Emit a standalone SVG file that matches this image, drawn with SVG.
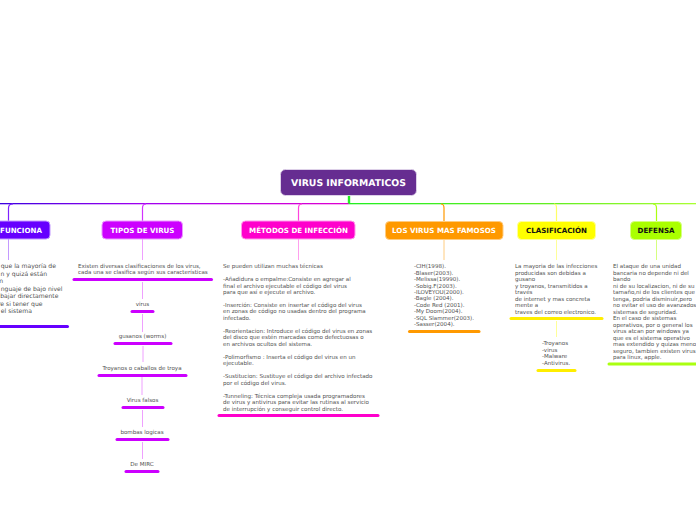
<svg xmlns="http://www.w3.org/2000/svg" width="696" height="520" viewBox="0 0 696 520">
<style>
text{font-family:"DejaVu Sans",Verdana,sans-serif;text-rendering:geometricPrecision}
.t{font-size:5.55px;fill:#505050}
.w{font-size:6.1px;fill:#505050;text-anchor:end}
.c{text-anchor:middle}
.h{font-size:7.1px;font-weight:bold;fill:#fff;text-anchor:middle}
.l{fill:none;stroke-width:1.2}
.b{stroke-width:3;stroke-linecap:round;fill:none}
.s{stroke-width:1;fill:none}
</style>
<defs>
<linearGradient id="gl" gradientUnits="userSpaceOnUse" x1="0" y1="0" x2="349" y2="0"><stop offset="0" stop-color="#3a00e0"/><stop offset=".4" stop-color="#a000f0"/><stop offset="1" stop-color="#e000d0"/></linearGradient>
<linearGradient id="gr" gradientUnits="userSpaceOnUse" x1="349" y1="0" x2="696" y2="0"><stop offset="0" stop-color="#22ee22"/><stop offset=".6" stop-color="#66ee22"/><stop offset="1" stop-color="#aaff33"/></linearGradient>
</defs>
<g id="connectors">
<rect x="0" y="203" width="349" height="1.300" fill="url(#gl)"/>
<rect x="349" y="203" width="347" height="1.300" fill="url(#gr)"/>
<path d="M349 196V203.500" stroke="#22ee22" stroke-width="2.400" fill="none"/>
<path class="l" d="M13 204Q8.500 204 8.500 208V221" stroke="#7f22ff"/>
<path class="l" d="M146 204Q142.500 204 142.500 208V221" stroke="#d133ff"/>
<path class="l" d="M302 204Q298.500 204 298.500 208V221" stroke="#ff44dd"/>
<path class="l" d="M441 204Q444 204 444 208V221" stroke="#ff9900"/>
<path class="l" d="M554 204Q556.500 204 556.500 208V221" stroke="#ffff66"/>
<path class="l" d="M653 204Q656.500 204 656.500 208V221" stroke="#aaff11"/>
<g class="s" stroke="#efa0ff">
<path d="M8.500 239V260" stroke="#c49aff"/>
<path d="M142.500 239V260M142.500 282V299M142.500 314V332M143 346V362M142 377V395M142.500 410V427M142.500 442V459"/>
</g>
<path class="s" stroke="#ffa0ee" d="M298.500 239V260"/>
<path class="s" stroke="#ffcc80" d="M444 240V260"/>
<path class="s" stroke="#ffff99" d="M556.500 240V260M556.500 321V337"/>
<path class="s" stroke="#d6ff80" d="M656.500 240V260"/>
<g class="b">
<path stroke="#6600ff" d="M-5 326.500H67.500"/>
<path stroke="#cc00ff" d="M74 279.500H211.500"/>
<path stroke="#cc00ff" d="M132 311.500H153"/>
<path stroke="#cc00ff" d="M115 343.500H171"/>
<path stroke="#cc00ff" d="M99 375.500H186"/>
<path stroke="#cc00ff" d="M123 407.500H163"/>
<path stroke="#cc00ff" d="M117 439.500H168"/>
<path stroke="#cc00ff" d="M126 471.500H158"/>
<path stroke="#ff00cc" d="M219 415.500H378"/>
<path stroke="#ff9900" d="M409.500 331.500H479"/>
<path stroke="#ffee00" d="M511 318.500H602"/>
<path stroke="#ffee00" d="M538 370.500H575"/>
<path stroke="#aaff11" d="M609 364H696"/>
</g>
</g>
<g id="root"><rect x="280.500" y="169.500" width="136" height="26" rx="5" fill="#662d91" stroke="#ddd0e8"/><text x="348.500" y="186" font-size="9.300" font-weight="bold" fill="#fff" text-anchor="middle">VIRUS INFORMATICOS</text></g>
<g id="funciona"><rect x="-40" y="221" width="90" height="18" rx="4" fill="#6600ff" stroke="#c49aff"/><text class="h" x="21" y="233">FUNCIONA</text>
<g><text class="w" x="56" y="268">que la mayoría de</text><text class="w" x="47" y="275.500">n y quizá están</text><text class="w" x="3" y="283">n</text><text class="w" x="62.500" y="290.500">nguaje de bajo nivel</text><text class="w" x="58.500" y="298">bajar directamente</text><text class="w" x="42.500" y="305.500">re si tener que</text><text class="w" x="32" y="313">el sistema</text></g></g>
<g id="tipos"><rect x="102" y="221" width="80.500" height="18" rx="4" fill="#cc00ff" stroke="#eb99ff"/><text class="h" x="142.500" y="233">TIPOS DE VIRUS</text>
<g class="t"><text x="78" y="268">Existen diversas clasificaciones de los virus,</text><text x="78" y="274">cada una se clasifica  según sus características</text></g></g>
<g id="virus"><text class="t c" x="142.500" y="306">virus</text></g>
<g id="gusanos"><text class="t c" x="142.500" y="338">gusanos (worms)</text></g>
<g id="troyanos"><text class="t c" x="142" y="370">Troyanos o caballos de troya</text></g>
<g id="falsos"><text class="t c" x="142.500" y="402">Virus falsos</text></g>
<g id="bombas"><text class="t c" x="142" y="434">bombas logicas</text></g>
<g id="mirc"><text class="t c" x="142" y="466">De MIRC</text></g>
<g id="metodos"><rect x="241.500" y="221" width="113.500" height="18" rx="4" fill="#ff00cc" stroke="#ff99eb"/><text class="h" x="298.500" y="233">MÉTODOS DE INFECCIÓN</text>
<g class="t"><text x="223" y="268">Se pueden utilizan muchas técnicas</text>
<text x="223" y="281">-Añadidura o empalme:Consiste en agregar al</text><text x="223" y="288">final el archivo ejecutable el código del virus</text><text x="223" y="294">para que así e ejecute el archivo.</text>
<text x="223" y="307">-Inserción: Consiste en insertar el código del virus</text><text x="223" y="313">en zonas de código no usadas dentro del programa</text><text x="223" y="320">infectado.</text>
<text x="223" y="333">-Reorientacion: Introduce el código del virus en zonas</text><text x="223" y="339">del disco que estén marcadas como defectuosas o</text><text x="223" y="346">en archivos ocultos del sistema.</text>
<text x="223" y="359">-Polimorfismo : Inserta el código del virus en un</text><text x="223" y="365">ejecutable.</text>
<text x="223" y="378">-Sustitucion: Sustituye el código del archivo infectado</text><text x="223" y="385">por el código del virus.</text>
<text x="223" y="398">-Tunneling: Técnica compleja usada programadores</text><text x="223" y="404">de virus y antivirus para evitar  las rutinas al servicio</text><text x="223" y="411">de interrupción y conseguir control directo.</text></g></g>
<g id="famosos"><rect x="385.500" y="221.500" width="117.500" height="18" rx="4" fill="#ff9900" stroke="#ffcc80"/><text class="h" x="444" y="233">LOS VIRUS MAS FAMOSOS</text>
<g class="t"><text x="414" y="268">-CIH(1998).</text><text x="414" y="274.500">-Blaser(2003).</text><text x="414" y="281">-Melissa(19990).</text><text x="414" y="287.500">-Sobig.F(2003).</text><text x="414" y="294">-ILOVEYOU(2000).</text><text x="414" y="300">-Bagle (2004).</text><text x="414" y="307">-Code Red (2001).</text><text x="414" y="313">-My Doom(2004).</text><text x="414" y="320">-SQL Slammer(2003).</text><text x="414" y="326">-Sasser(2004).</text></g></g>
<g id="clasificacion"><rect x="517.500" y="221.500" width="78" height="18" rx="4" fill="#ffff00" stroke="#ffff99"/><text x="556.500" y="233" font-size="7.100" font-weight="bold" fill="#111" text-anchor="middle">CLASIFICACIÓN</text>
<g class="t"><text x="515" y="268">La mayoria de las infecciones</text><text x="515" y="274.500">producidas son debidas a</text><text x="515" y="281">gusano</text><text x="515" y="287.500">y troyanos, transmitidos a</text><text x="515" y="294">través</text><text x="515" y="300.500">de internet y mas concreta</text><text x="515" y="307">mente a</text><text x="515" y="313.500">traves del correo electronico.</text></g>
<g class="t"><text x="542" y="345">-Troyanos</text><text x="542" y="352">-virus</text><text x="542" y="358">-Malware</text><text x="542" y="365">-Antivirus.</text></g></g>
<g id="defensa"><rect x="630.500" y="221.500" width="51" height="18" rx="4" fill="#aaff00" stroke="#d6ff80"/><text x="656" y="233" font-size="7.100" font-weight="bold" fill="#111" text-anchor="middle">DEFENSA</text>
<g class="t"><text x="613" y="268">El ataque de una unidad</text><text x="613" y="274.500">bancaria no depende ni del</text><text x="613" y="281">bando</text><text x="613" y="287.500">ni de su localizacion, ni de su</text><text x="613" y="294">tamaño,ni de los clientes que</text><text x="613" y="300.500">tenga, podria disminuir,pero</text><text x="613" y="307">no evitar el uso de avanzados</text><text x="613" y="313.500">sistemas de seguridad.</text><text x="613" y="320">En el caso de sistemas</text><text x="613" y="326.500">operativos, por o general los</text><text x="613" y="333">virus atcan por windows ya</text><text x="613" y="339.500">que es el sistema operativo</text><text x="613" y="346">mas extendido y quizas menos</text><text x="613" y="352.500">seguro, tambien existen virus</text><text x="613" y="359">para linux, apple.</text></g></g>
</svg>
